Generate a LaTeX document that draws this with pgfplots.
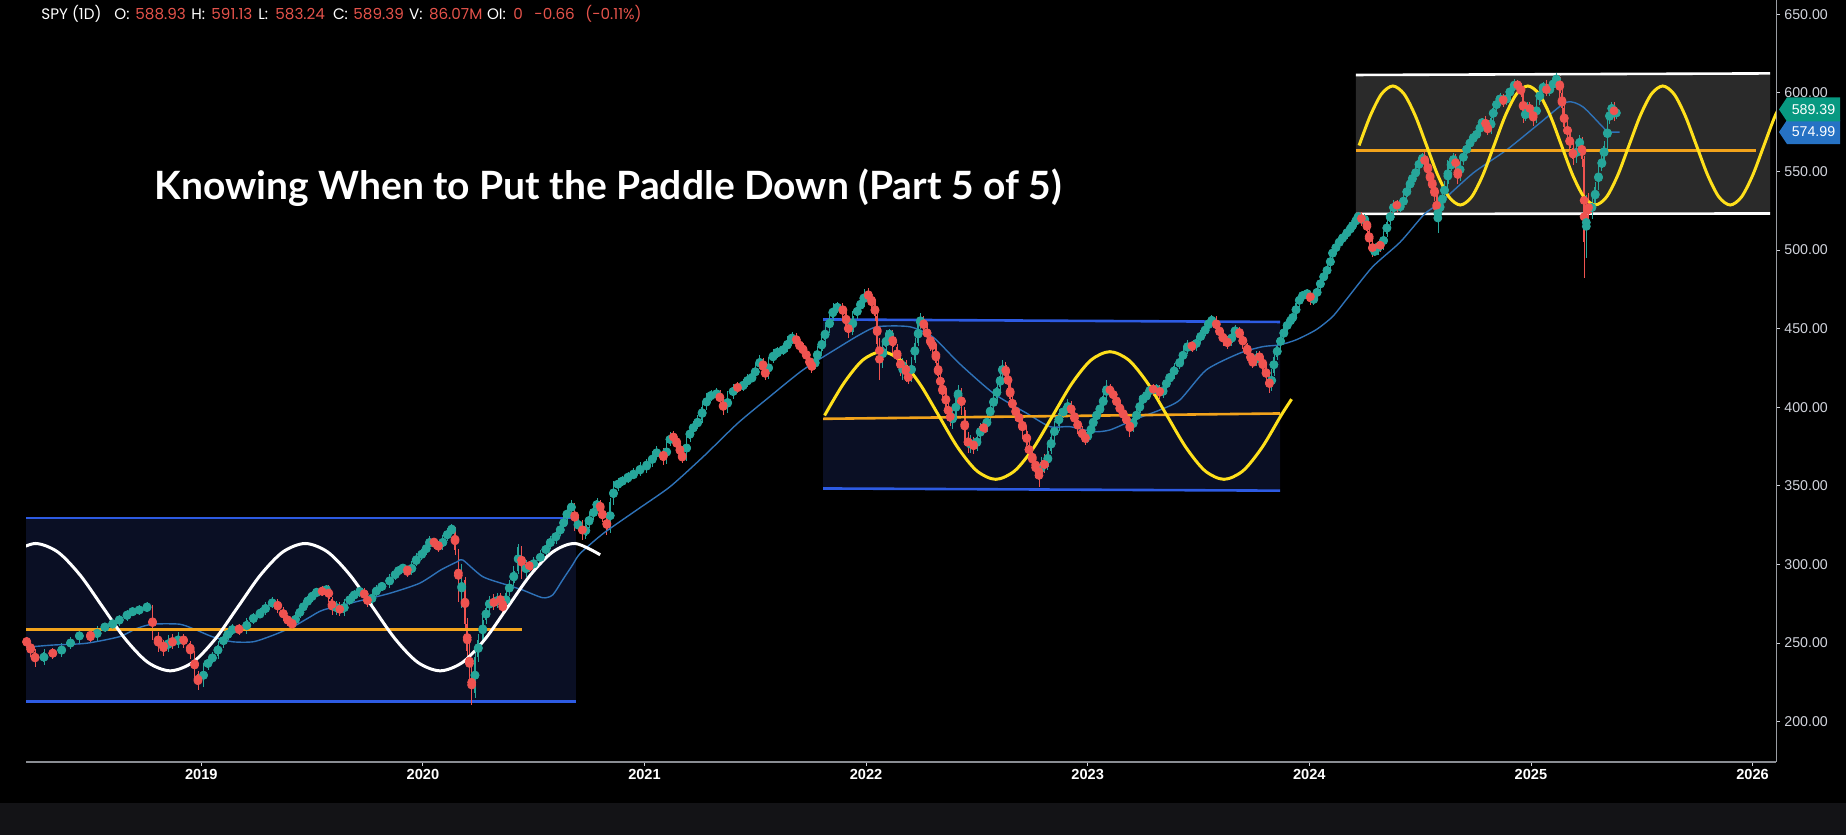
\documentclass[border=0pt]{standalone}
\usepackage{pgfplots}
\pgfplotsset{compat=1.18}
\usepackage{pgfplotstable}
\usepackage{fontspec}
\setmainfont{Liberation Sans}
\newfontfamily\pop{Poppins}
\newfontfamily\lato{Lato}
\definecolor{bg}{HTML}{000000}
\definecolor{band}{HTML}{131316}
\definecolor{navy}{HTML}{0A0F24}
\definecolor{boxgray}{HTML}{2A2A2A}
\definecolor{bline}{HTML}{2D5BE3}
\definecolor{orng}{HTML}{F2A31B}
\definecolor{ylw}{HTML}{FFE01B}
\definecolor{ma}{HTML}{2E72B8}
\definecolor{cgreen}{HTML}{26A69A}
\definecolor{cred}{HTML}{EF5350}
\definecolor{txt}{HTML}{D1D4DC}
\definecolor{hred}{HTML}{E5534B}
\definecolor{tagg}{HTML}{089981}
\definecolor{tagb}{HTML}{2672C4}
\definecolor{axx}{HTML}{8A8D93}
\definecolor{axy}{HTML}{9A9DA3}

% d = years since 2018
\pgfplotstableread{
d o h l c
0.212 252 254 247 250
0.23 250 251 241 244
0.25 244 246 235 238
0.29 238 246 236 244
0.33 244 247 240 243
0.37 243 250 241 248
0.41 248 254 246 252
0.45 252 259 250 257
0.50 257 258 250 253
0.53 253 261 251 259.5
0.565 259.5 263 257 261
0.60 261 265 259 263.5
0.63 263.5 268 261 266
0.665 266 271 264 269.7
0.69 269.7 273 267 270
0.72 270 274 268 272
0.755 272 276 270 273
0.78 273 274 252 254
0.805 254 257 244 250
0.83 250 252 242 246
0.85 246 255 244 252
0.87 252 256 246 249
0.895 249 257 247 254
0.92 254 256 247 250
0.95 250 251 240 243.6
0.97 243.6 245 227 230
0.985 230 232 220 224
1.01 224 237 222 235
1.03 235 241 233 239
1.05 239 244 237 242
1.075 242 251 240 249
1.10 249 256 247 254
1.12 254 259 252 257
1.14 257 262 255 260
1.17 260 262 255 258
1.205 258 266 256 264.6
1.235 264.6 269 262 267
1.265 267 272 266 269.7
1.29 269.7 276 268 274
1.32 274 279 272 277
1.345 277 278 269 271
1.37 271 273 264 266.5
1.39 266.5 268 261 263
1.41 263 265 259 262
1.425 262 270 260 268
1.445 268 273 266 271
1.46 271 277 269 275
1.48 275 280 273 278.6
1.50 278.6 283 276 281
1.52 281 285 279 283.7
1.545 283.7 286 280 282
1.565 282 287 281 285.6
1.575 285.6 287 276 278
1.59 278 279 268 271
1.61 271 277 268 274
1.625 274 276 267 269
1.645 269 278 267 276
1.67 276 281 274 279
1.69 279 284 277 282
1.715 282 286 279 283.7
1.735 283.7 285 277 279
1.75 279 281 273 275.5
1.77 275.5 283 274 281
1.79 281 287 279 285
1.815 285 289 283 287
1.85 287 294 285 292
1.875 292 297 290 295
1.89 295 299 293 297
1.91 297 300 295 298.4
1.93 298.4 299 292 294.6
1.95 294.6 302 293 300
1.97 300 307 299 304.8
1.995 304.8 310 303 308
2.015 308 314 306 312
2.03 312 318 310 315.5
2.05 315.5 317 310 313
2.07 313 315 308 311
2.09 311 319 309 317
2.11 317 323 315 320.6
2.13 320.6 326 319 323
2.145 323 324 306 309
2.16 309 310 276 280
2.175 280 300 272 290
2.19 290 292 258 262
2.20 262 266 238 245
2.21 245 252 222 232
2.22 232 236 210.6 218
2.235 218 244 215 241
2.25 241 256 238 252
2.27 252 268 250 264.7
2.285 264.7 275 262 272
2.30 272 280 270 277.4
2.32 277.4 281 271 274
2.335 274 282 272 279.3
2.35 279.3 282 272 276
2.36 276 278 268 273
2.375 273 284 271 282
2.39 282 290 280 288
2.41 288 299 286 296
2.43 296 313 294 311
2.445 311 312 291 294.5
2.465 294.5 303 292 300
2.48 300 302 295 298.4
2.50 298.4 305 296 302
2.53 302 309 300 307
2.555 307 314 305 312
2.575 312 318 310 315.5
2.60 315.5 322 313 320
2.62 320 326 318 323.8
2.635 323.8 331 322 329
2.65 329 337 327 334.6
2.67 334.6 341 332 338
2.685 338 339 321 324
2.70 324 330 321 326
2.72 326 328 315.5 318
2.735 318 327 316 325
2.75 325 333 323 330
2.77 330 338 328 336
2.785 336 342 334 340
2.80 340 341 331 334
2.81 334 336 327 330
2.83 330 332 318.7 322
2.845 322 342 320 340
2.86 340 353 338 350
2.88 350 355 347 352
2.90 352 356 350 353.8
2.925 353.8 359 352 356
2.95 356 361 354 358
2.98 358 365 356 362
3.01 362 367 358 364.5
3.035 364.5 372 362 369
3.055 369 375 367 372.8
3.085 372.8 374 363 366
3.10 366 379 364 377
3.115 377 384 375 382
3.13 382 385 377 380
3.145 380 382 372 376
3.16 376 378 367 370
3.17 370 372 364.5 368
3.19 368 382 366 380
3.205 380 388 378 385.5
3.22 385.5 391 383 388
3.24 388 395 386 392
3.26 392 403 390 400
3.28 400 409 398 406.5
3.30 406.5 411 404 408
3.325 408 412 405 409
3.34 409 411 401 404
3.355 404 406 395 398
3.375 398 410 396 407
3.40 407 415 405 413
3.42 413 416 409 412
3.445 412 418 410 415.3
3.465 415.3 421 413 418
3.485 418 422 416 419
3.50 419 428 417 426
3.52 426 433 424 430
3.535 430 431 421 424
3.545 424 426 417 420
3.56 420 432 418 430
3.58 430 437 428 434
3.60 434 438 431 436
3.625 436 440 433 437
3.645 437 445 435 442
3.665 442 448 440 445
3.685 445 447 438 441
3.70 441 443 435 438
3.715 438 441 432 436
3.73 436 438 428 431
3.745 431 433 424 427
3.755 427 430 421.8 426
3.77 426 433 424 430
3.78 430 439 428 436
3.80 436 446 434 443
3.815 443 452 441 449
3.835 449 460 447 457
3.85 457 466 455 463
3.87 463 467 460 464
3.895 464 466 457 460
3.91 460 462 449 452
3.92 452 456 444 448
3.94 448 461 446 458
3.96 458 466 456 463.7
3.975 463.7 470 461 466
3.99 466 475 464 472
4.01 472 476 467 470
4.025 470 472 462 466
4.04 466 468 455 458
4.05 458 460 436 440
4.06 440 444 417 432
4.075 432 443 425 438
4.09 438 449 434 446
4.105 446 450 442 447
4.12 447 449 434 438
4.14 438 440 426 430
4.155 430 434 420 425
4.165 425 431 417 428
4.18 428 430 416 420
4.19 420 423 415 418
4.205 418 432 416 430
4.22 430 444 428 441
4.235 441 455 439 452
4.245 452 460 450 456
4.26 456 458 447 450
4.275 450 452 442 444.7
4.29 444.7 447 436 440
4.30 440 445 434 438.4
4.315 438.4 440 424 428
4.325 428 430 416 420
4.335 420 424 409 413
4.345 413 416 405 410
4.36 410 412 397 400
4.37 400 404 392 396
4.38 396 399 388 392
4.39 392 399 386 395
4.405 395 408 392 405
4.415 405 414 403 410
4.43 410 412 395 398
4.445 398 400 376 380
4.46 380 384 371 376
4.47 376 382 371 378
4.485 378 381 370 374
4.50 374 384 372 381
4.515 381 390 378 388
4.53 388 390 382 386
4.545 386 397 384 394
4.56 394 403 392 400
4.575 400 409 398 406
4.59 406 415 404 412.8
4.605 412.8 424 410 420
4.615 420 430 418 427
4.63 427 429 416 420
4.64 420 422 412 415
4.65 415 417 401 405
4.66 405 408 396 400
4.675 400 403 391 395
4.69 395 398 388 392
4.705 392 395 380 385
4.725 385 388 372 376
4.735 376 380 366 370
4.75 370 373 361 366.4
4.765 366.4 368 355 360
4.78 360 364 349.2 358
4.79 358 368 354 365
4.805 365 370 358 362
4.82 362 375 360 372
4.835 372 384 370 381
4.85 381 391 378 388
4.87 388 399 385 396
4.89 396 401 393 398
4.91 398 405 396 402
4.925 402 404 393 396
4.94 396 398 388 392
4.955 392 394 383 386
4.975 386 388 378 381
4.99 381 384 376 380
5.00 380 386 377 383
5.015 383 391 381 388
5.025 388 395 386 392
5.04 392 400 390 397
5.055 397 403 395 400
5.07 400 410 398 407
5.085 407 417.3 405 413
5.10 413 415 406 409
5.115 409 412 404 407
5.13 407 409 398 401
5.145 401 403 395 398
5.16 398 400 391 394
5.175 394 397 387 390
5.19 390 393 381 386
5.205 386 396 384 393
5.22 393 399 391 396
5.235 396 407 394 404
5.25 404 409 402 406
5.265 406 411 404 408
5.28 408 415.3 406 413
5.295 413 415 407 410
5.31 410 415 408 412
5.325 412 414 405 408
5.34 408 415 406 412
5.355 412 420 410 418
5.37 418 422 415 420
5.39 420 428 418 426
5.415 426 433 424 430
5.43 430 438 428 436
5.45 436 443 434 440
5.47 440 442 435 438
5.49 438 445 436 443
5.51 443 449 441 447
5.53 447 453 445 451
5.545 451 457 449 454
5.56 454 458.6 452 456
5.58 456 458 447 450
5.595 450 452 444 447
5.61 447 449 439 442
5.63 442 445 437 441
5.65 441 449 439 447
5.665 447 452 445 450
5.685 450 451 442 445
5.70 445 447 437 440
5.72 440 441 431 434
5.735 434 436 427 430
5.745 430 432 425 428
5.76 428 436 426 433
5.775 433 436 428 431
5.79 431 433 421 425
5.805 425 427 416 419
5.82 419 421 409 412
5.83 412 424 410 422
5.84 422 434 420 432
5.855 432 441 430 439
5.87 439 447 437 444.7
5.885 444.7 452 442 450
5.90 450 456 448 454
5.915 454 458 452 456
5.925 456 460 454 458
5.94 458 468 456 466
5.955 466 472 464 470
5.97 470 474 468 472
5.99 472 475 469 472.5
6.005 472.5 474 465 468
6.02 468 472 465 470
6.035 470 478 468 476
6.05 476 483 474 480.8
6.065 480.8 487 479 485
6.08 485 491 483 489
6.095 489 498 487 496
6.105 496 502 494 500
6.12 500 505 498 503
6.135 503 509 501 506.4
6.15 506.4 511 504 509
6.17 509 515 507 512.7
6.185 512.7 517 510 514
6.195 514 519 512 517
6.21 517 522 515 520
6.22 520 524 518 522
6.235 522 524 515 518
6.25 518 523 516 520
6.26 520 521 509 512
6.27 512 514 501 505
6.285 505 507 495.4 498
6.295 498 503 496 500
6.31 500 506 497 504
6.32 504 507 499 502
6.335 502 512 500 510
6.35 510 520 508 518
6.365 518 526 516 524
6.38 524 532 522 530
6.395 530 532 524 527
6.41 527 531 524 528
6.425 528 536 526 534
6.44 534 542 532 540
6.455 540 546 538 544
6.465 544 549 542 546.4
6.48 546.4 554 544 552
6.495 552 559 550 557
6.51 557 561.6 555 558
6.52 558 562 553 556
6.535 556 557 546 549
6.545 549 551 541 545
6.555 545 547 536 540
6.565 540 542 531 535
6.575 535 537 518 522
6.58 522 530 510.7 525
6.59 525 533 521 530
6.60 530 537 528 534
6.61 534 544 532 542
6.625 542 557 540 552
6.64 552 559 550 556
6.65 556 561.6 553 559
6.66 559 561 549 552
6.67 552 554 542 546.4
6.68 546.4 558 544 556
6.695 556 564 554 562
6.71 562 568 560 566
6.725 566 572 564 570
6.74 570 575 568 572
6.755 572 577 570 575
6.77 575 582 573 580
6.78 580 584 578 582
6.795 582 585 576 579
6.805 579 581 573 576
6.82 576 586 574 584
6.83 584 592 582 590
6.845 590 597 588 595
6.86 595 600 592 597
6.875 597 599 591 594
6.89 594 600 592 598
6.905 598 605 596 603
6.925 603 608.8 601 606
6.94 606 608 601 604
6.955 604 606 597 600
6.965 600 602 580.7 584
6.975 584 591 582 588
6.985 588 594 586 592
6.995 592 594 584 588
7.01 588 590 579 583
7.025 583 596 581 594
7.04 594 604 592 602
7.055 602 607 600 604
7.07 604 608 598 600
7.085 600 606 598 604
7.10 604 609 602 607
7.115 607 612.6 605 610
7.13 610 611 597 600
7.14 600 602 586 590
7.15 590 592 575 578
7.165 578 582 570 574
7.175 574 577 561 565
7.19 565 568 554 558
7.205 558 569 555 566
7.22 566 573 564 570
7.23 570 572 553 558
7.24 558 560 482.2 505
7.25 505 535 495 530
7.26 530 536 515 524
7.275 524 534 520 530
7.29 530 543 528 540
7.305 540 555 538 552
7.32 552 561 550 558
7.33 558 569 556 566
7.345 566 585 564 582
7.355 582 591 580 588
7.365 588 594 586 592
7.375 592 594 582 585
7.385 585 591.1 583.2 589.4
}\candles

\pgfplotsset{
  candle/.style n args={2}{forget plot, color=#1, only marks, mark=none,
    error bars/.cd, y dir=both, y explicit, error mark=none,
    error bar style={draw=#1, color=#1, line width=#2, line cap=butt}, /pgfplots/.cd},
}

\begin{document}
\begin{tikzpicture}
\fill[bg] (0,0) rectangle (923pt,417.5pt);
\fill[band] (0,0) rectangle (923pt,16pt);
\useasboundingbox (0,0) rectangle (923pt,417.5pt);
\begin{axis}[
  at={(13pt,36.65pt)}, anchor=south west,
  scale only axis, width=875pt, height=380.85pt,
  xmin=0.209, xmax=8.106, ymin=174.5, ymax=659,
  axis x line*=bottom, axis y line*=right,
  x axis line style={draw=axx, line width=1.2pt},
  y axis line style={draw=axy, line width=0.5pt},
  tick align=outside, major tick length=2pt,
  tick style={draw=txt, line width=0.4pt},
  xtick={1,2,3,4,5,6,7,8},
  xticklabels={2019,2020,2021,2022,2023,2024,2025,2026},
  ytick={200,250,300,350,400,450,500,550,600,650},
  yticklabels={200.00,250.00,300.00,350.00,400.00,450.00,500.00,550.00,600.00,650.00},
  scaled x ticks=false, scaled y ticks=false,
  xticklabel style={font=\fontsize{7.3}{8}\selectfont\bfseries, text=white, anchor=north, inner sep=0pt, yshift=-1.5pt},
  yticklabel style={font=\fontsize{7.1}{8}\selectfont, text=txt, anchor=west, inner sep=0pt, xshift=2pt},
]
% box fills
\addplot[draw=none, fill=navy, forget plot] coordinates {(0.1,212.8) (2.689,212.8) (2.689,329.5) (0.1,329.5)} -- cycle;
\addplot[draw=none, fill=navy, forget plot] coordinates {(3.806,348.3) (5.868,346.9) (5.868,454.2) (3.806,455.8)} -- cycle;
\addplot[draw=none, fill=boxgray, forget plot] coordinates {(6.21,522.9) (8.079,523.2) (8.079,612.3) (6.21,611.3)} -- cycle;
% box lines
\addplot[bline, line width=1.3pt] coordinates {(0.1,329.5) (2.689,329.5)};
\addplot[bline, line width=1.3pt] coordinates {(0.1,212.8) (2.689,212.8)};
\addplot[bline, line width=1.3pt] coordinates {(3.806,455.8) (5.868,454.2)};
\addplot[bline, line width=1.3pt] coordinates {(3.806,348.3) (5.868,346.9)};
\addplot[white, line width=1.3pt] coordinates {(6.21,611.3) (8.079,612.3)};
\addplot[white, line width=1.3pt] coordinates {(6.21,522.9) (8.079,523.2)};
% candles: wicks
\addplot[restrict expr to domain={\thisrow{c}-\thisrow{o}}{0:1000}, candle={cgreen}{0.35pt}]
  table[x=d, y expr={(\thisrow{h}+\thisrow{l})/2}, y error expr={(\thisrow{h}-\thisrow{l})/2}] {\candles};
\addplot[restrict expr to domain={\thisrow{c}-\thisrow{o}}{-1000:-0.00001}, candle={cred}{0.35pt}]
  table[x=d, y expr={(\thisrow{h}+\thisrow{l})/2}, y error expr={(\thisrow{h}-\thisrow{l})/2}] {\candles};
% candles: bodies
\addplot[restrict expr to domain={\thisrow{c}-\thisrow{o}}{0:1000}, candle={cgreen}{0.8pt}]
  table[x=d, y expr={(\thisrow{o}+\thisrow{c})/2}, y error expr={abs(\thisrow{c}-\thisrow{o})/2}] {\candles};
\addplot[restrict expr to domain={\thisrow{c}-\thisrow{o}}{-1000:-0.00001}, candle={cred}{0.8pt}]
  table[x=d, y expr={(\thisrow{o}+\thisrow{c})/2}, y error expr={abs(\thisrow{c}-\thisrow{o})/2}] {\candles};
% moving average
\addplot[ma, line width=0.7pt, smooth, tension=0.4] coordinates {
(0.209,247.3) (0.33,248.7) (0.48,249.8) (0.63,254) (0.71,259.3) (0.78,262) (0.90,262) (0.96,259.3)
(1.05,254) (1.14,250.8) (1.235,250.8) (1.325,255) (1.415,260.4) (1.49,266.5) (1.55,271) (1.70,276.3)
(1.85,281.6) (1.985,288) (2.08,296.4) (2.155,301.7) (2.18,302.8) (2.27,292.2) (2.38,286.9) (2.45,283.7)
(2.54,278.8) (2.585,280.5) (2.63,290) (2.675,299.6) (2.71,307) (2.815,319.8) (2.965,334.6) (3.115,349.4)
(3.265,368.5) (3.42,389.7) (3.565,406.7) (3.715,423.7) (3.87,437.5) (3.97,446) (4.05,451.2) (4.195,451.2)
(4.30,444.8) (4.42,427.9) (4.575,408.8) (4.725,396.1) (4.83,387.6) (4.92,387.6) (5.025,384.4) (5.10,385.5)
(5.205,391.8) (5.325,398.2) (5.415,404.5) (5.535,423.7) (5.685,434.3) (5.79,438.5) (5.865,439.6) (5.94,442.8)
(6.03,449.2) (6.105,457.6) (6.17,469) (6.285,489.2) (6.41,505) (6.52,522.9) (6.59,530) (6.74,549)
(6.89,563.6) (7.04,580.7) (7.16,594) (7.235,591) (7.34,576) (7.37,575) (7.40,575)};
% orange mean lines
\addplot[orng, line width=1.3pt] coordinates {(0.1,258.4) (2.448,258.4)};
\addplot[orng, line width=1.3pt] coordinates {(3.806,392.6) (5.868,396.0)};
\addplot[orng, line width=1.3pt] coordinates {(6.21,563.2) (8.017,563.2)};
% cycles
\addplot[white, line width=1.5pt, smooth] coordinates {
(0.1495,307.87) (0.251,313.3) (0.3525,307.87) (0.454,293.05) (0.5555,272.8) (0.657,252.55) (0.7585,237.73)
(0.860,232.3) (0.9615,237.73) (1.063,252.55) (1.1645,272.8) (1.266,293.05) (1.3675,307.87) (1.469,313.3)
(1.5705,307.87) (1.672,293.05) (1.7735,272.8) (1.875,252.55) (1.9765,237.73) (2.078,232.3) (2.1795,237.73)
(2.281,252.55) (2.3825,272.8) (2.484,293.05) (2.5855,307.87) (2.687,313.3) (2.80,306.1)};
\addplot[ylw, line width=1.5pt, smooth] coordinates {
(3.8125,394.7) (3.8983,415.0) (3.9842,429.86) (4.07,435.3) (4.1558,429.86) (4.2417,415.0) (4.3275,394.7)
(4.4133,374.4) (4.4992,359.54) (4.585,354.1) (4.6708,359.54) (4.7567,374.4) (4.8425,394.7) (4.9283,415.0)
(5.0142,429.86) (5.10,435.3) (5.1858,429.86) (5.2717,415.0) (5.3575,394.7) (5.4433,374.4) (5.5292,359.54)
(5.615,354.1) (5.7008,359.54) (5.7867,374.4) (5.8725,394.7) (5.92,405.1)};
\addplot[ylw, line width=1.5pt, smooth] coordinates {
(6.2245,566.45) (6.2753,585.38) (6.3260,599.23) (6.3768,604.3) (6.4275,599.23) (6.4783,585.38) (6.5290,566.45)
(6.5798,547.52) (6.6305,533.67) (6.6813,528.6) (6.7320,533.67) (6.7828,547.52) (6.8335,566.45) (6.8843,585.38)
(6.9350,599.23) (6.9858,604.3) (7.0365,599.23) (7.0873,585.38) (7.1380,566.45) (7.1888,547.52) (7.2395,533.67)
(7.2903,528.6) (7.3410,533.67) (7.3918,547.52) (7.4425,566.45) (7.4933,585.38) (7.5440,599.23) (7.5948,604.3)
(7.6455,599.23) (7.6963,585.38) (7.7470,566.45) (7.7978,547.52) (7.8485,533.67) (7.8993,528.6) (7.9500,533.67)
(8.0008,547.52) (8.0515,566.45) (8.1023,585.38) (8.153,599.23)};
\coordinate (tg) at (axis cs:8.106,589.39);
\coordinate (tb) at (axis cs:8.106,574.99);
\end{axis}
% price tags
\fill[tagb] ([xshift=1.5pt]tb) -- ++(4pt,6pt) -- ++(26.5pt,0) -- ++(0,-12pt) -- ++(-26.5pt,0) -- cycle;
\node[text=white, font=\fontsize{7.1}{8}\selectfont, inner sep=0pt] at ([xshift=18.75pt]tb) {574.99};
\fill[tagg] ([xshift=1.5pt]tg) -- ++(4pt,6pt) -- ++(26.5pt,0) -- ++(0,-12pt) -- ++(-26.5pt,0) -- cycle;
\node[text=white, font=\fontsize{7.1}{8}\selectfont, inner sep=0pt] at ([xshift=18.75pt]tg) {589.39};
% header
\begin{scope}[every node/.style={anchor=base west, inner sep=0pt, font=\pop\fontsize{7.6}{9}\selectfont}]
\node[text=white] at (20.5pt,407.5pt) {SPY (1D)};
\node[text=white] at (57pt,407.5pt) {O:};
\node[text=hred] at (67.5pt,407.5pt) {588.93};
\node[text=white] at (95.5pt,407.5pt) {H:};
\node[text=hred] at (105.5pt,407.5pt) {591.13};
\node[text=white] at (129pt,407.5pt) {L:};
\node[text=hred] at (137.5pt,407.5pt) {583.24};
\node[text=white] at (166.3pt,407.5pt) {C:};
\node[text=hred] at (176.5pt,407.5pt) {589.39};
\node[text=white] at (204.3pt,407.5pt) {V:};
\node[text=hred] at (214.3pt,407.5pt) {86.07M};
\node[text=white] at (243.3pt,407.5pt) {OI:};
\node[text=hred] at (256.5pt,407.5pt) {0};
\node[text=hred] at (267pt,407.5pt) {-0.66};
\node[text=hred] at (292.5pt,407.5pt) {(-0.11\%)};
\end{scope}
% title
\node[anchor=base west, inner sep=0pt, text=white, font=\lato\bfseries\fontsize{19.5}{23}\selectfont] at (77pt,317.5pt) {Knowing When to Put the Paddle Down (Part 5 of 5)};
\end{tikzpicture}
\end{document}
